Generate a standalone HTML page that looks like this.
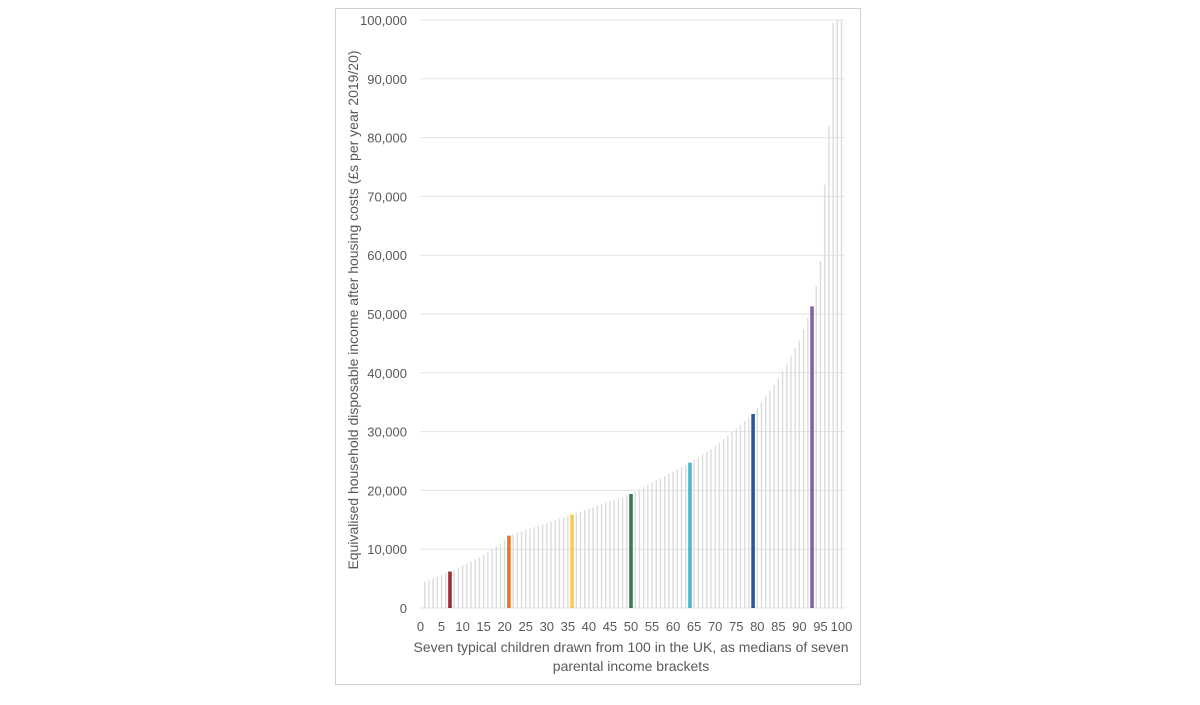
<!DOCTYPE html>
<html><head><meta charset="utf-8"><style>
body{margin:0;background:#fff;width:1200px;height:700px;overflow:hidden}
svg text{font-family:"Liberation Sans",sans-serif;fill:#595959}
</style></head><body>
<svg id="s" width="1200" height="700" xmlns="http://www.w3.org/2000/svg">
<rect x="335.5" y="8.5" width="525" height="676" fill="#fff" stroke="#d0d0d0"/>
<g id="g"></g>
<text transform="translate(358,310) rotate(-90)" text-anchor="middle" font-size="14">Equivalised household disposable income after housing costs (£s per year 2019/20)</text>
<text x="631" y="652" text-anchor="middle" font-size="14">Seven typical children drawn from 100 in the UK, as medians of seven</text>
<text x="631" y="671" text-anchor="middle" font-size="14">parental income brackets</text>
</svg>
<script>
var g=document.getElementById('g'),h='';
function Y(v){return 608-v*0.00588;}
for(var k=0;k<=10;k++){var y=Y(k*10000);
 h+='<line x1="420" x2="845" y1="'+y+'" y2="'+y+'" stroke="#e3e3e3"/>';
 h+='<text x="407" y="'+(y+5)+'" text-anchor="end" font-size="13">'+(k==0?'0':(k*10)+',000')+'</text>';}
for(var k=0;k<=20;k++){h+='<text x="'+(420.5+k*5*4.21)+'" y="631" text-anchor="middle" font-size="13">'+(k*5)+'</text>';}
var A=[[1,4500],[7,6200],[10,7200],[15,9000],[20,11500],[21,12300],[36,15900],[50,19400],[64,24700],[70,27500],[79,33000],[85,39000],[90,45500],[93,51300],[94,54800],[95,59000],[96,72000],[97,82000],[98,99500],[99,100000],[100,100000]];
function val(i){for(var j=0;j<A.length-1;j++){if(i>=A[j][0]&&i<=A[j+1][0]){var t=(i-A[j][0])/(A[j+1][0]-A[j][0]);return A[j][1]+t*(A[j+1][1]-A[j][1]);}}return 0;}
var C={7:'#9e2a36',21:'#e8762c',36:'#fcc952',50:'#3f7b4a',64:'#4db8cc',79:'#2f5597',93:'#8064a2'};
for(var i=1;i<=100;i++){var x=420.5+i*4.21,v=val(i),y=Y(v);
 if(C[i]) h+='<rect x="'+(x-1.8)+'" y="'+y+'" width="3.6" height="'+(608-y)+'" fill="'+C[i]+'"/>';
 else h+='<rect x="'+(x-0.7)+'" y="'+y+'" width="1.4" height="'+(608-y)+'" fill="#dcdcdc"/>';}
g.innerHTML=h;
</script>
</body></html>
